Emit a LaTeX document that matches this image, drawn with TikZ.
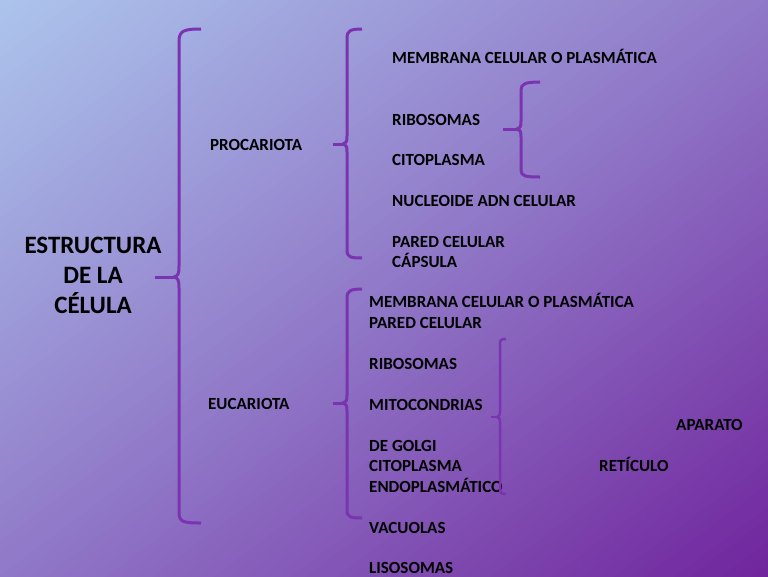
\documentclass[tikz,border=0pt]{standalone}
\usepackage{fontspec}
\setmainfont{Carlito}
\definecolor{bgA}{RGB}{172,196,236}
\definecolor{bgM}{RGB}{144,120,200}
\definecolor{bgB}{RGB}{112,36,156}
\definecolor{brc}{RGB}{122,52,176}
\tikzset{
  brace/.style={draw=brc,line width=3pt,line join=round},
  item/.style={anchor=base west,inner sep=0pt,font=\fontsize{17}{20}\selectfont\bfseries,text=black},
  big/.style={anchor=base,inner sep=0pt,font=\fontsize{25}{30}\selectfont\bfseries,text=black}
}
\begin{document}
\begin{tikzpicture}[x=1pt,y=-1pt]
\useasboundingbox (0,0) rectangle (768,576);
% diagonal gradient background
\begin{scope}[xscale=768,yscale=576]
  \clip (0,0) rectangle (1,1);
  \foreach \i in {0,...,100}{
    \pgfmathsetmacro{\a}{\i/50}
    \ifnum\i<50
      \pgfmathtruncatemacro{\p}{\i*2}
      \colorlet{cc}{bgM!\p!bgA}
    \else
      \pgfmathtruncatemacro{\p}{(\i-50)*2}
      \colorlet{cc}{bgB!\p!bgM}
    \fi
    \fill[cc] (\a+4,-4) -- (12,-4) -- (12,10) -- (\a-10,10) -- cycle;
  }
\end{scope}

% title
\node[big] (t1) at (93,253.3) {ESTRUCTURA};
\node[big] (t2) at (93,283.5) {DE LA};
\node[big] (t3) at (93,313.5) {CÉLULA};

% main brace
\coordinate (m) at (155,277);
\draw[brace] (201,29) .. controls (183,29) and (179,31) .. (179,42) -- (179,266)
  .. controls (179,274) and (178,276) .. (174,277)
  .. controls (178,278) and (179,280) .. (179,288) -- (179,512)
  .. controls (179,522) and (183,523) .. (201,523);
\draw[brace] (m) -- (174,277);

\node[item] (pro) at (210,150.5) {PROCARIOTA};
\node[item] (euc) at (208,409) {EUCARIOTA};

% procariota brace
\draw[brace] (362,29) .. controls (350,29) and (347,31) .. (347,38) -- (347,136)
  .. controls (347,142) and (346,143.5) .. (343,144)
  .. controls (346,144.5) and (347,146) .. (347,152) -- (347,250)
  .. controls (347,257) and (350,258) .. (362,258);
\draw[brace] (333,144) -- (343,144);

\node[item] (p1) at (392,63.5) {MEMBRANA CELULAR O PLASMÁTICA};
\node[item] (p2) at (392,125) {RIBOSOMAS};
\node[item] (p3) at (392,165.5) {CITOPLASMA};
\node[item] (p4) at (392,206) {NUCLEOIDE ADN CELULAR};
\node[item] (p5) at (392,247.5) {PARED CELULAR};
\node[item] (p6) at (392,267.5) {CÁPSULA};

% small brace
\draw[brace] (540,82) .. controls (525,82) and (521,84) .. (521,90) -- (521,121)
  .. controls (521,127) and (520,128.5) .. (517,129)
  .. controls (520,129.5) and (521,131) .. (521,137) -- (521,170)
  .. controls (521,176) and (525,177) .. (540,177);
\draw[brace] (503,129) -- (517,129);

% eucariota brace
\draw[brace] (362,289) .. controls (350,289) and (347,291) .. (347,298) -- (347,395)
  .. controls (347,401) and (346,402.5) .. (343,403)
  .. controls (346,403.5) and (347,405) .. (347,411) -- (347,510)
  .. controls (347,517) and (350,518) .. (362,518);
\draw[brace] (333,403) -- (343,403);

\node[item] (e1) at (369,307.5) {MEMBRANA CELULAR O PLASMÁTICA};
\node[item] (e2) at (369,328) {PARED CELULAR};
\node[item] (e3) at (369,369.5) {RIBOSOMAS};
\node[item] (e4) at (369,410) {MITOCONDRIAS};
\node[item] (e5) at (369,451.5) {DE GOLGI};
\node[item] (e6) at (369,471.5) {CITOPLASMA};
\node[item] (e7) at (369,492.5) {ENDOPLASMÁTICO};
\node[item] (e8) at (369,533.5) {VACUOLAS};
\node[item] (e9) at (369,573.5) {LISOSOMAS};

% inner eucariota brace
\draw[brace,line width=2.5pt] (506,339) .. controls (501,339) and (500,340) .. (500,344) -- (500,412)
  .. controls (500,415) and (499.5,416.5) .. (497,417)
  .. controls (499.5,417.5) and (500,419) .. (500,422) -- (500,490)
  .. controls (500,493) and (501,494) .. (506,494);
\draw[brace,line width=2.5pt] (491,417) -- (497,417);

\node[item] (ap) at (676,430.5) {APARATO};
\node[item] (re) at (599,471.5) {RETÍCULO};
\end{tikzpicture}
\end{document}
